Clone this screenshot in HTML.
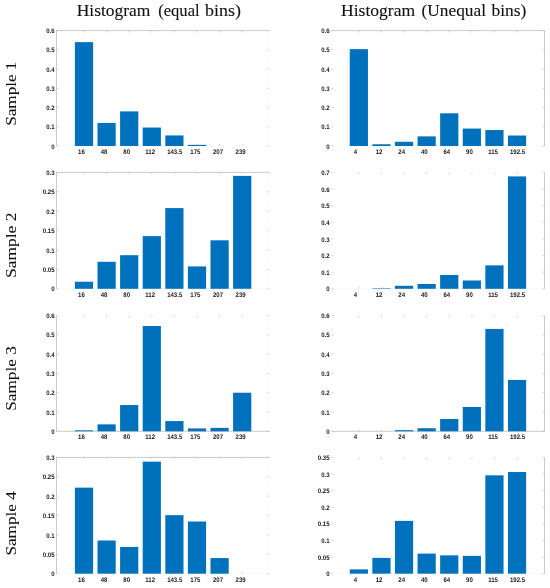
<!DOCTYPE html>
<html><head><meta charset="utf-8"><title>Histograms</title>
<style>
html,body{margin:0;padding:0;background:#fff;}
svg{display:block;}
.t{font-family:"Liberation Sans",sans-serif;font-size:6.05px;font-weight:bold;fill:#1a1a1a;text-rendering:geometricPrecision;}
.h{font-family:"Liberation Serif",serif;font-size:16.6px;fill:#111;stroke:#111;stroke-width:0.1px;}
.s{font-size:15.6px;stroke-width:0.05px;}
</style></head><body>
<svg width="550" height="588" viewBox="0 0 550 588">
<rect width="550" height="588" fill="#fff"/>
<g><line x1="56.5" y1="30.6" x2="56.5" y2="146.0" stroke="#b4b4b4" stroke-width="0.7"/><line x1="269.5" y1="30.6" x2="269.5" y2="146.0" stroke="#f6f6f6" stroke-width="0.5"/><line x1="56.5" y1="30.6" x2="269.5" y2="30.6" stroke="#b4b4b4" stroke-width="0.7"/><line x1="56.5" y1="146.0" x2="269.5" y2="146.0" stroke="#f6f6f6" stroke-width="0.5"/><line x1="56.5" y1="146.00" x2="58.7" y2="146.00" stroke="#b0b0b0" stroke-width="0.5"/><line x1="269.5" y1="146.00" x2="267.3" y2="146.00" stroke="#b0b0b0" stroke-width="0.5"/><text transform="translate(54.6,148.60) scale(1,1.08)" text-anchor="end" class="t">0</text><line x1="56.5" y1="126.77" x2="58.7" y2="126.77" stroke="#b0b0b0" stroke-width="0.5"/><line x1="269.5" y1="126.77" x2="267.3" y2="126.77" stroke="#b0b0b0" stroke-width="0.5"/><text transform="translate(54.6,129.37) scale(1,1.08)" text-anchor="end" class="t">0.1</text><line x1="56.5" y1="107.53" x2="58.7" y2="107.53" stroke="#b0b0b0" stroke-width="0.5"/><line x1="269.5" y1="107.53" x2="267.3" y2="107.53" stroke="#b0b0b0" stroke-width="0.5"/><text transform="translate(54.6,110.13) scale(1,1.08)" text-anchor="end" class="t">0.2</text><line x1="56.5" y1="88.30" x2="58.7" y2="88.30" stroke="#b0b0b0" stroke-width="0.5"/><line x1="269.5" y1="88.30" x2="267.3" y2="88.30" stroke="#b0b0b0" stroke-width="0.5"/><text transform="translate(54.6,90.90) scale(1,1.08)" text-anchor="end" class="t">0.3</text><line x1="56.5" y1="69.07" x2="58.7" y2="69.07" stroke="#b0b0b0" stroke-width="0.5"/><line x1="269.5" y1="69.07" x2="267.3" y2="69.07" stroke="#b0b0b0" stroke-width="0.5"/><text transform="translate(54.6,71.67) scale(1,1.08)" text-anchor="end" class="t">0.4</text><line x1="56.5" y1="49.83" x2="58.7" y2="49.83" stroke="#b0b0b0" stroke-width="0.5"/><line x1="269.5" y1="49.83" x2="267.3" y2="49.83" stroke="#b0b0b0" stroke-width="0.5"/><text transform="translate(54.6,52.43) scale(1,1.08)" text-anchor="end" class="t">0.5</text><line x1="56.5" y1="30.60" x2="58.7" y2="30.60" stroke="#b0b0b0" stroke-width="0.5"/><line x1="269.5" y1="30.60" x2="267.3" y2="30.60" stroke="#b0b0b0" stroke-width="0.5"/><text transform="translate(54.6,33.20) scale(1,1.08)" text-anchor="end" class="t">0.6</text><line x1="84.00" y1="30.6" x2="84.00" y2="32.800000000000004" stroke="#b0b0b0" stroke-width="0.5"/><line x1="84.00" y1="146.0" x2="84.00" y2="143.8" stroke="#b0b0b0" stroke-width="0.5"/><rect x="74.90" y="42.14" width="18.2" height="103.86" fill="#0072BD"/><text transform="translate(81.45,154.15) scale(1,1.1)" text-anchor="middle" class="t">16</text><line x1="106.60" y1="30.6" x2="106.60" y2="32.800000000000004" stroke="#b0b0b0" stroke-width="0.5"/><line x1="106.60" y1="146.0" x2="106.60" y2="143.8" stroke="#b0b0b0" stroke-width="0.5"/><rect x="97.50" y="122.92" width="18.2" height="23.08" fill="#0072BD"/><text transform="translate(104.05,154.15) scale(1,1.1)" text-anchor="middle" class="t">48</text><line x1="129.20" y1="30.6" x2="129.20" y2="32.800000000000004" stroke="#b0b0b0" stroke-width="0.5"/><line x1="129.20" y1="146.0" x2="129.20" y2="143.8" stroke="#b0b0b0" stroke-width="0.5"/><rect x="120.10" y="111.38" width="18.2" height="34.62" fill="#0072BD"/><text transform="translate(126.65,154.15) scale(1,1.1)" text-anchor="middle" class="t">80</text><line x1="151.80" y1="30.6" x2="151.80" y2="32.800000000000004" stroke="#b0b0b0" stroke-width="0.5"/><line x1="151.80" y1="146.0" x2="151.80" y2="143.8" stroke="#b0b0b0" stroke-width="0.5"/><rect x="142.70" y="127.54" width="18.2" height="18.46" fill="#0072BD"/><text transform="translate(150.20,154.15) scale(1,1.1)" text-anchor="middle" class="t">112</text><line x1="174.40" y1="30.6" x2="174.40" y2="32.800000000000004" stroke="#b0b0b0" stroke-width="0.5"/><line x1="174.40" y1="146.0" x2="174.40" y2="143.8" stroke="#b0b0b0" stroke-width="0.5"/><rect x="165.30" y="135.42" width="18.2" height="10.58" fill="#0072BD"/><text transform="translate(174.70,154.15) scale(1,1.1)" text-anchor="middle" class="t">143.5</text><line x1="197.00" y1="30.6" x2="197.00" y2="32.800000000000004" stroke="#b0b0b0" stroke-width="0.5"/><line x1="197.00" y1="146.0" x2="197.00" y2="143.8" stroke="#b0b0b0" stroke-width="0.5"/><rect x="187.90" y="144.85" width="18.2" height="1.15" fill="#0072BD"/><text transform="translate(195.40,154.15) scale(1,1.1)" text-anchor="middle" class="t">175</text><line x1="219.60" y1="30.6" x2="219.60" y2="32.800000000000004" stroke="#b0b0b0" stroke-width="0.5"/><line x1="219.60" y1="146.0" x2="219.60" y2="143.8" stroke="#b0b0b0" stroke-width="0.5"/><text transform="translate(218.00,154.15) scale(1,1.1)" text-anchor="middle" class="t">207</text><line x1="242.20" y1="30.6" x2="242.20" y2="32.800000000000004" stroke="#b0b0b0" stroke-width="0.5"/><line x1="242.20" y1="146.0" x2="242.20" y2="143.8" stroke="#b0b0b0" stroke-width="0.5"/><text transform="translate(240.60,154.15) scale(1,1.1)" text-anchor="middle" class="t">239</text></g>
<g><line x1="331.5" y1="30.6" x2="331.5" y2="146.0" stroke="#f6f6f6" stroke-width="0.5"/><line x1="544.5" y1="30.6" x2="544.5" y2="146.0" stroke="#b4b4b4" stroke-width="0.7"/><line x1="331.5" y1="30.6" x2="544.5" y2="30.6" stroke="#b4b4b4" stroke-width="0.7"/><line x1="331.5" y1="146.0" x2="544.5" y2="146.0" stroke="#f6f6f6" stroke-width="0.5"/><line x1="331.5" y1="146.00" x2="333.7" y2="146.00" stroke="#b0b0b0" stroke-width="0.5"/><line x1="544.5" y1="146.00" x2="542.3" y2="146.00" stroke="#b0b0b0" stroke-width="0.5"/><text transform="translate(329.6,148.60) scale(1,1.08)" text-anchor="end" class="t">0</text><line x1="331.5" y1="126.77" x2="333.7" y2="126.77" stroke="#b0b0b0" stroke-width="0.5"/><line x1="544.5" y1="126.77" x2="542.3" y2="126.77" stroke="#b0b0b0" stroke-width="0.5"/><text transform="translate(329.6,129.37) scale(1,1.08)" text-anchor="end" class="t">0.1</text><line x1="331.5" y1="107.53" x2="333.7" y2="107.53" stroke="#b0b0b0" stroke-width="0.5"/><line x1="544.5" y1="107.53" x2="542.3" y2="107.53" stroke="#b0b0b0" stroke-width="0.5"/><text transform="translate(329.6,110.13) scale(1,1.08)" text-anchor="end" class="t">0.2</text><line x1="331.5" y1="88.30" x2="333.7" y2="88.30" stroke="#b0b0b0" stroke-width="0.5"/><line x1="544.5" y1="88.30" x2="542.3" y2="88.30" stroke="#b0b0b0" stroke-width="0.5"/><text transform="translate(329.6,90.90) scale(1,1.08)" text-anchor="end" class="t">0.3</text><line x1="331.5" y1="69.07" x2="333.7" y2="69.07" stroke="#b0b0b0" stroke-width="0.5"/><line x1="544.5" y1="69.07" x2="542.3" y2="69.07" stroke="#b0b0b0" stroke-width="0.5"/><text transform="translate(329.6,71.67) scale(1,1.08)" text-anchor="end" class="t">0.4</text><line x1="331.5" y1="49.83" x2="333.7" y2="49.83" stroke="#b0b0b0" stroke-width="0.5"/><line x1="544.5" y1="49.83" x2="542.3" y2="49.83" stroke="#b0b0b0" stroke-width="0.5"/><text transform="translate(329.6,52.43) scale(1,1.08)" text-anchor="end" class="t">0.5</text><line x1="331.5" y1="30.60" x2="333.7" y2="30.60" stroke="#b0b0b0" stroke-width="0.5"/><line x1="544.5" y1="30.60" x2="542.3" y2="30.60" stroke="#b0b0b0" stroke-width="0.5"/><text transform="translate(329.6,33.20) scale(1,1.08)" text-anchor="end" class="t">0.6</text><line x1="358.85" y1="30.6" x2="358.85" y2="32.800000000000004" stroke="#b0b0b0" stroke-width="0.5"/><line x1="358.85" y1="146.0" x2="358.85" y2="143.8" stroke="#b0b0b0" stroke-width="0.5"/><rect x="349.75" y="49.14" width="18.2" height="96.86" fill="#0072BD"/><text transform="translate(355.50,154.15) scale(1,1.1)" text-anchor="middle" class="t">4</text><line x1="381.45" y1="30.6" x2="381.45" y2="32.800000000000004" stroke="#b0b0b0" stroke-width="0.5"/><line x1="381.45" y1="146.0" x2="381.45" y2="143.8" stroke="#b0b0b0" stroke-width="0.5"/><rect x="372.35" y="144.27" width="18.2" height="1.73" fill="#0072BD"/><text transform="translate(379.05,154.15) scale(1,1.1)" text-anchor="middle" class="t">12</text><line x1="404.05" y1="30.6" x2="404.05" y2="32.800000000000004" stroke="#b0b0b0" stroke-width="0.5"/><line x1="404.05" y1="146.0" x2="404.05" y2="143.8" stroke="#b0b0b0" stroke-width="0.5"/><rect x="394.95" y="141.77" width="18.2" height="4.23" fill="#0072BD"/><text transform="translate(401.65,154.15) scale(1,1.1)" text-anchor="middle" class="t">24</text><line x1="426.65" y1="30.6" x2="426.65" y2="32.800000000000004" stroke="#b0b0b0" stroke-width="0.5"/><line x1="426.65" y1="146.0" x2="426.65" y2="143.8" stroke="#b0b0b0" stroke-width="0.5"/><rect x="417.55" y="136.38" width="18.2" height="9.62" fill="#0072BD"/><text transform="translate(424.25,154.15) scale(1,1.1)" text-anchor="middle" class="t">40</text><line x1="449.25" y1="30.6" x2="449.25" y2="32.800000000000004" stroke="#b0b0b0" stroke-width="0.5"/><line x1="449.25" y1="146.0" x2="449.25" y2="143.8" stroke="#b0b0b0" stroke-width="0.5"/><rect x="440.15" y="113.30" width="18.2" height="32.70" fill="#0072BD"/><text transform="translate(446.85,154.15) scale(1,1.1)" text-anchor="middle" class="t">64</text><line x1="471.85" y1="30.6" x2="471.85" y2="32.800000000000004" stroke="#b0b0b0" stroke-width="0.5"/><line x1="471.85" y1="146.0" x2="471.85" y2="143.8" stroke="#b0b0b0" stroke-width="0.5"/><rect x="462.75" y="128.59" width="18.2" height="17.41" fill="#0072BD"/><text transform="translate(469.45,154.15) scale(1,1.1)" text-anchor="middle" class="t">90</text><line x1="494.45" y1="30.6" x2="494.45" y2="32.800000000000004" stroke="#b0b0b0" stroke-width="0.5"/><line x1="494.45" y1="146.0" x2="494.45" y2="143.8" stroke="#b0b0b0" stroke-width="0.5"/><rect x="485.35" y="130.04" width="18.2" height="15.96" fill="#0072BD"/><text transform="translate(493.00,154.15) scale(1,1.1)" text-anchor="middle" class="t">115</text><line x1="517.05" y1="30.6" x2="517.05" y2="32.800000000000004" stroke="#b0b0b0" stroke-width="0.5"/><line x1="517.05" y1="146.0" x2="517.05" y2="143.8" stroke="#b0b0b0" stroke-width="0.5"/><rect x="507.95" y="135.52" width="18.2" height="10.48" fill="#0072BD"/><text transform="translate(517.50,154.15) scale(1,1.1)" text-anchor="middle" class="t">192.5</text></g>
<g><line x1="56.5" y1="172.4" x2="56.5" y2="288.8" stroke="#b4b4b4" stroke-width="0.7"/><line x1="269.5" y1="172.4" x2="269.5" y2="288.8" stroke="#f6f6f6" stroke-width="0.5"/><line x1="56.5" y1="172.4" x2="269.5" y2="172.4" stroke="#b4b4b4" stroke-width="0.7"/><line x1="56.5" y1="288.8" x2="269.5" y2="288.8" stroke="#f6f6f6" stroke-width="0.5"/><line x1="56.5" y1="288.80" x2="58.7" y2="288.80" stroke="#b0b0b0" stroke-width="0.5"/><line x1="269.5" y1="288.80" x2="267.3" y2="288.80" stroke="#b0b0b0" stroke-width="0.5"/><text transform="translate(54.6,291.40) scale(1,1.08)" text-anchor="end" class="t">0</text><line x1="56.5" y1="269.40" x2="58.7" y2="269.40" stroke="#b0b0b0" stroke-width="0.5"/><line x1="269.5" y1="269.40" x2="267.3" y2="269.40" stroke="#b0b0b0" stroke-width="0.5"/><text transform="translate(54.6,272.00) scale(1,1.08)" text-anchor="end" class="t">0.05</text><line x1="56.5" y1="250.00" x2="58.7" y2="250.00" stroke="#b0b0b0" stroke-width="0.5"/><line x1="269.5" y1="250.00" x2="267.3" y2="250.00" stroke="#b0b0b0" stroke-width="0.5"/><text transform="translate(54.6,252.60) scale(1,1.08)" text-anchor="end" class="t">0.1</text><line x1="56.5" y1="230.60" x2="58.7" y2="230.60" stroke="#b0b0b0" stroke-width="0.5"/><line x1="269.5" y1="230.60" x2="267.3" y2="230.60" stroke="#b0b0b0" stroke-width="0.5"/><text transform="translate(54.6,233.20) scale(1,1.08)" text-anchor="end" class="t">0.15</text><line x1="56.5" y1="211.20" x2="58.7" y2="211.20" stroke="#b0b0b0" stroke-width="0.5"/><line x1="269.5" y1="211.20" x2="267.3" y2="211.20" stroke="#b0b0b0" stroke-width="0.5"/><text transform="translate(54.6,213.80) scale(1,1.08)" text-anchor="end" class="t">0.2</text><line x1="56.5" y1="191.80" x2="58.7" y2="191.80" stroke="#b0b0b0" stroke-width="0.5"/><line x1="269.5" y1="191.80" x2="267.3" y2="191.80" stroke="#b0b0b0" stroke-width="0.5"/><text transform="translate(54.6,194.40) scale(1,1.08)" text-anchor="end" class="t">0.25</text><line x1="56.5" y1="172.40" x2="58.7" y2="172.40" stroke="#b0b0b0" stroke-width="0.5"/><line x1="269.5" y1="172.40" x2="267.3" y2="172.40" stroke="#b0b0b0" stroke-width="0.5"/><text transform="translate(54.6,175.00) scale(1,1.08)" text-anchor="end" class="t">0.3</text><line x1="84.00" y1="172.4" x2="84.00" y2="174.6" stroke="#b0b0b0" stroke-width="0.5"/><line x1="84.00" y1="288.8" x2="84.00" y2="286.6" stroke="#b0b0b0" stroke-width="0.5"/><rect x="74.90" y="281.70" width="18.2" height="7.10" fill="#0072BD"/><text transform="translate(81.45,296.55) scale(1,1.1)" text-anchor="middle" class="t">16</text><line x1="106.60" y1="172.4" x2="106.60" y2="174.6" stroke="#b0b0b0" stroke-width="0.5"/><line x1="106.60" y1="288.8" x2="106.60" y2="286.6" stroke="#b0b0b0" stroke-width="0.5"/><rect x="97.50" y="261.80" width="18.2" height="27.00" fill="#0072BD"/><text transform="translate(104.05,296.55) scale(1,1.1)" text-anchor="middle" class="t">48</text><line x1="129.20" y1="172.4" x2="129.20" y2="174.6" stroke="#b0b0b0" stroke-width="0.5"/><line x1="129.20" y1="288.8" x2="129.20" y2="286.6" stroke="#b0b0b0" stroke-width="0.5"/><rect x="120.10" y="255.20" width="18.2" height="33.60" fill="#0072BD"/><text transform="translate(126.65,296.55) scale(1,1.1)" text-anchor="middle" class="t">80</text><line x1="151.80" y1="172.4" x2="151.80" y2="174.6" stroke="#b0b0b0" stroke-width="0.5"/><line x1="151.80" y1="288.8" x2="151.80" y2="286.6" stroke="#b0b0b0" stroke-width="0.5"/><rect x="142.70" y="236.11" width="18.2" height="52.69" fill="#0072BD"/><text transform="translate(150.20,296.55) scale(1,1.1)" text-anchor="middle" class="t">112</text><line x1="174.40" y1="172.4" x2="174.40" y2="174.6" stroke="#b0b0b0" stroke-width="0.5"/><line x1="174.40" y1="288.8" x2="174.40" y2="286.6" stroke="#b0b0b0" stroke-width="0.5"/><rect x="165.30" y="208.10" width="18.2" height="80.70" fill="#0072BD"/><text transform="translate(174.70,296.55) scale(1,1.1)" text-anchor="middle" class="t">143.5</text><line x1="197.00" y1="172.4" x2="197.00" y2="174.6" stroke="#b0b0b0" stroke-width="0.5"/><line x1="197.00" y1="288.8" x2="197.00" y2="286.6" stroke="#b0b0b0" stroke-width="0.5"/><rect x="187.90" y="266.41" width="18.2" height="22.39" fill="#0072BD"/><text transform="translate(195.40,296.55) scale(1,1.1)" text-anchor="middle" class="t">175</text><line x1="219.60" y1="172.4" x2="219.60" y2="174.6" stroke="#b0b0b0" stroke-width="0.5"/><line x1="219.60" y1="288.8" x2="219.60" y2="286.6" stroke="#b0b0b0" stroke-width="0.5"/><rect x="210.50" y="240.30" width="18.2" height="48.50" fill="#0072BD"/><text transform="translate(218.00,296.55) scale(1,1.1)" text-anchor="middle" class="t">207</text><line x1="242.20" y1="172.4" x2="242.20" y2="174.6" stroke="#b0b0b0" stroke-width="0.5"/><line x1="242.20" y1="288.8" x2="242.20" y2="286.6" stroke="#b0b0b0" stroke-width="0.5"/><rect x="233.10" y="175.89" width="18.2" height="112.91" fill="#0072BD"/><text transform="translate(240.60,296.55) scale(1,1.1)" text-anchor="middle" class="t">239</text></g>
<g><line x1="331.5" y1="172.4" x2="331.5" y2="288.8" stroke="#f6f6f6" stroke-width="0.5"/><line x1="544.5" y1="172.4" x2="544.5" y2="288.8" stroke="#b4b4b4" stroke-width="0.7"/><line x1="331.5" y1="172.4" x2="544.5" y2="172.4" stroke="#f6f6f6" stroke-width="0.5"/><line x1="331.5" y1="288.8" x2="544.5" y2="288.8" stroke="#f6f6f6" stroke-width="0.5"/><line x1="331.5" y1="288.80" x2="333.7" y2="288.80" stroke="#b0b0b0" stroke-width="0.5"/><line x1="544.5" y1="288.80" x2="542.3" y2="288.80" stroke="#b0b0b0" stroke-width="0.5"/><text transform="translate(329.6,291.40) scale(1,1.08)" text-anchor="end" class="t">0</text><line x1="331.5" y1="272.17" x2="333.7" y2="272.17" stroke="#b0b0b0" stroke-width="0.5"/><line x1="544.5" y1="272.17" x2="542.3" y2="272.17" stroke="#b0b0b0" stroke-width="0.5"/><text transform="translate(329.6,274.77) scale(1,1.08)" text-anchor="end" class="t">0.1</text><line x1="331.5" y1="255.54" x2="333.7" y2="255.54" stroke="#b0b0b0" stroke-width="0.5"/><line x1="544.5" y1="255.54" x2="542.3" y2="255.54" stroke="#b0b0b0" stroke-width="0.5"/><text transform="translate(329.6,258.14) scale(1,1.08)" text-anchor="end" class="t">0.2</text><line x1="331.5" y1="238.91" x2="333.7" y2="238.91" stroke="#b0b0b0" stroke-width="0.5"/><line x1="544.5" y1="238.91" x2="542.3" y2="238.91" stroke="#b0b0b0" stroke-width="0.5"/><text transform="translate(329.6,241.51) scale(1,1.08)" text-anchor="end" class="t">0.3</text><line x1="331.5" y1="222.29" x2="333.7" y2="222.29" stroke="#b0b0b0" stroke-width="0.5"/><line x1="544.5" y1="222.29" x2="542.3" y2="222.29" stroke="#b0b0b0" stroke-width="0.5"/><text transform="translate(329.6,224.89) scale(1,1.08)" text-anchor="end" class="t">0.4</text><line x1="331.5" y1="205.66" x2="333.7" y2="205.66" stroke="#b0b0b0" stroke-width="0.5"/><line x1="544.5" y1="205.66" x2="542.3" y2="205.66" stroke="#b0b0b0" stroke-width="0.5"/><text transform="translate(329.6,208.26) scale(1,1.08)" text-anchor="end" class="t">0.5</text><line x1="331.5" y1="189.03" x2="333.7" y2="189.03" stroke="#b0b0b0" stroke-width="0.5"/><line x1="544.5" y1="189.03" x2="542.3" y2="189.03" stroke="#b0b0b0" stroke-width="0.5"/><text transform="translate(329.6,191.63) scale(1,1.08)" text-anchor="end" class="t">0.6</text><line x1="331.5" y1="172.40" x2="333.7" y2="172.40" stroke="#b0b0b0" stroke-width="0.5"/><line x1="544.5" y1="172.40" x2="542.3" y2="172.40" stroke="#b0b0b0" stroke-width="0.5"/><text transform="translate(329.6,175.00) scale(1,1.08)" text-anchor="end" class="t">0.7</text><line x1="358.85" y1="172.4" x2="358.85" y2="174.6" stroke="#b0b0b0" stroke-width="0.5"/><line x1="358.85" y1="288.8" x2="358.85" y2="286.6" stroke="#b0b0b0" stroke-width="0.5"/><text transform="translate(355.50,296.55) scale(1,1.1)" text-anchor="middle" class="t">4</text><line x1="381.45" y1="172.4" x2="381.45" y2="174.6" stroke="#b0b0b0" stroke-width="0.5"/><line x1="381.45" y1="288.8" x2="381.45" y2="286.6" stroke="#b0b0b0" stroke-width="0.5"/><rect x="372.35" y="288.30" width="18.2" height="0.50" fill="#0072BD"/><text transform="translate(379.05,296.55) scale(1,1.1)" text-anchor="middle" class="t">12</text><line x1="404.05" y1="172.4" x2="404.05" y2="174.6" stroke="#b0b0b0" stroke-width="0.5"/><line x1="404.05" y1="288.8" x2="404.05" y2="286.6" stroke="#b0b0b0" stroke-width="0.5"/><rect x="394.95" y="285.81" width="18.2" height="2.99" fill="#0072BD"/><text transform="translate(401.65,296.55) scale(1,1.1)" text-anchor="middle" class="t">24</text><line x1="426.65" y1="172.4" x2="426.65" y2="174.6" stroke="#b0b0b0" stroke-width="0.5"/><line x1="426.65" y1="288.8" x2="426.65" y2="286.6" stroke="#b0b0b0" stroke-width="0.5"/><rect x="417.55" y="283.98" width="18.2" height="4.82" fill="#0072BD"/><text transform="translate(424.25,296.55) scale(1,1.1)" text-anchor="middle" class="t">40</text><line x1="449.25" y1="172.4" x2="449.25" y2="174.6" stroke="#b0b0b0" stroke-width="0.5"/><line x1="449.25" y1="288.8" x2="449.25" y2="286.6" stroke="#b0b0b0" stroke-width="0.5"/><rect x="440.15" y="275.00" width="18.2" height="13.80" fill="#0072BD"/><text transform="translate(446.85,296.55) scale(1,1.1)" text-anchor="middle" class="t">64</text><line x1="471.85" y1="172.4" x2="471.85" y2="174.6" stroke="#b0b0b0" stroke-width="0.5"/><line x1="471.85" y1="288.8" x2="471.85" y2="286.6" stroke="#b0b0b0" stroke-width="0.5"/><rect x="462.75" y="280.49" width="18.2" height="8.31" fill="#0072BD"/><text transform="translate(469.45,296.55) scale(1,1.1)" text-anchor="middle" class="t">90</text><line x1="494.45" y1="172.4" x2="494.45" y2="174.6" stroke="#b0b0b0" stroke-width="0.5"/><line x1="494.45" y1="288.8" x2="494.45" y2="286.6" stroke="#b0b0b0" stroke-width="0.5"/><rect x="485.35" y="265.35" width="18.2" height="23.45" fill="#0072BD"/><text transform="translate(493.00,296.55) scale(1,1.1)" text-anchor="middle" class="t">115</text><line x1="517.05" y1="172.4" x2="517.05" y2="174.6" stroke="#b0b0b0" stroke-width="0.5"/><line x1="517.05" y1="288.8" x2="517.05" y2="286.6" stroke="#b0b0b0" stroke-width="0.5"/><rect x="507.95" y="176.39" width="18.2" height="112.41" fill="#0072BD"/><text transform="translate(517.50,296.55) scale(1,1.1)" text-anchor="middle" class="t">192.5</text></g>
<g><line x1="56.5" y1="315.6" x2="56.5" y2="431.3" stroke="#b4b4b4" stroke-width="0.7"/><line x1="269.5" y1="315.6" x2="269.5" y2="431.3" stroke="#f6f6f6" stroke-width="0.5"/><line x1="56.5" y1="315.6" x2="269.5" y2="315.6" stroke="#f6f6f6" stroke-width="0.5"/><line x1="56.5" y1="431.3" x2="269.5" y2="431.3" stroke="#b4b4b4" stroke-width="0.7"/><line x1="56.5" y1="431.30" x2="58.7" y2="431.30" stroke="#b0b0b0" stroke-width="0.5"/><line x1="269.5" y1="431.30" x2="267.3" y2="431.30" stroke="#b0b0b0" stroke-width="0.5"/><text transform="translate(54.6,433.90) scale(1,1.08)" text-anchor="end" class="t">0</text><line x1="56.5" y1="412.02" x2="58.7" y2="412.02" stroke="#b0b0b0" stroke-width="0.5"/><line x1="269.5" y1="412.02" x2="267.3" y2="412.02" stroke="#b0b0b0" stroke-width="0.5"/><text transform="translate(54.6,414.62) scale(1,1.08)" text-anchor="end" class="t">0.1</text><line x1="56.5" y1="392.73" x2="58.7" y2="392.73" stroke="#b0b0b0" stroke-width="0.5"/><line x1="269.5" y1="392.73" x2="267.3" y2="392.73" stroke="#b0b0b0" stroke-width="0.5"/><text transform="translate(54.6,395.33) scale(1,1.08)" text-anchor="end" class="t">0.2</text><line x1="56.5" y1="373.45" x2="58.7" y2="373.45" stroke="#b0b0b0" stroke-width="0.5"/><line x1="269.5" y1="373.45" x2="267.3" y2="373.45" stroke="#b0b0b0" stroke-width="0.5"/><text transform="translate(54.6,376.05) scale(1,1.08)" text-anchor="end" class="t">0.3</text><line x1="56.5" y1="354.17" x2="58.7" y2="354.17" stroke="#b0b0b0" stroke-width="0.5"/><line x1="269.5" y1="354.17" x2="267.3" y2="354.17" stroke="#b0b0b0" stroke-width="0.5"/><text transform="translate(54.6,356.77) scale(1,1.08)" text-anchor="end" class="t">0.4</text><line x1="56.5" y1="334.88" x2="58.7" y2="334.88" stroke="#b0b0b0" stroke-width="0.5"/><line x1="269.5" y1="334.88" x2="267.3" y2="334.88" stroke="#b0b0b0" stroke-width="0.5"/><text transform="translate(54.6,337.48) scale(1,1.08)" text-anchor="end" class="t">0.5</text><line x1="56.5" y1="315.60" x2="58.7" y2="315.60" stroke="#b0b0b0" stroke-width="0.5"/><line x1="269.5" y1="315.60" x2="267.3" y2="315.60" stroke="#b0b0b0" stroke-width="0.5"/><text transform="translate(54.6,318.20) scale(1,1.08)" text-anchor="end" class="t">0.6</text><line x1="84.00" y1="315.6" x2="84.00" y2="317.8" stroke="#b0b0b0" stroke-width="0.5"/><line x1="84.00" y1="431.3" x2="84.00" y2="429.1" stroke="#b0b0b0" stroke-width="0.5"/><rect x="74.90" y="430.34" width="18.2" height="0.96" fill="#0072BD"/><text transform="translate(81.45,438.85) scale(1,1.1)" text-anchor="middle" class="t">16</text><line x1="106.60" y1="315.6" x2="106.60" y2="317.8" stroke="#b0b0b0" stroke-width="0.5"/><line x1="106.60" y1="431.3" x2="106.60" y2="429.1" stroke="#b0b0b0" stroke-width="0.5"/><rect x="97.50" y="424.36" width="18.2" height="6.94" fill="#0072BD"/><text transform="translate(104.05,438.85) scale(1,1.1)" text-anchor="middle" class="t">48</text><line x1="129.20" y1="315.6" x2="129.20" y2="317.8" stroke="#b0b0b0" stroke-width="0.5"/><line x1="129.20" y1="431.3" x2="129.20" y2="429.1" stroke="#b0b0b0" stroke-width="0.5"/><rect x="120.10" y="405.07" width="18.2" height="26.23" fill="#0072BD"/><text transform="translate(126.65,438.85) scale(1,1.1)" text-anchor="middle" class="t">80</text><line x1="151.80" y1="315.6" x2="151.80" y2="317.8" stroke="#b0b0b0" stroke-width="0.5"/><line x1="151.80" y1="431.3" x2="151.80" y2="429.1" stroke="#b0b0b0" stroke-width="0.5"/><rect x="142.70" y="326.01" width="18.2" height="105.29" fill="#0072BD"/><text transform="translate(150.20,438.85) scale(1,1.1)" text-anchor="middle" class="t">112</text><line x1="174.40" y1="315.6" x2="174.40" y2="317.8" stroke="#b0b0b0" stroke-width="0.5"/><line x1="174.40" y1="431.3" x2="174.40" y2="429.1" stroke="#b0b0b0" stroke-width="0.5"/><rect x="165.30" y="421.08" width="18.2" height="10.22" fill="#0072BD"/><text transform="translate(174.70,438.85) scale(1,1.1)" text-anchor="middle" class="t">143.5</text><line x1="197.00" y1="315.6" x2="197.00" y2="317.8" stroke="#b0b0b0" stroke-width="0.5"/><line x1="197.00" y1="431.3" x2="197.00" y2="429.1" stroke="#b0b0b0" stroke-width="0.5"/><rect x="187.90" y="428.41" width="18.2" height="2.89" fill="#0072BD"/><text transform="translate(195.40,438.85) scale(1,1.1)" text-anchor="middle" class="t">175</text><line x1="219.60" y1="315.6" x2="219.60" y2="317.8" stroke="#b0b0b0" stroke-width="0.5"/><line x1="219.60" y1="431.3" x2="219.60" y2="429.1" stroke="#b0b0b0" stroke-width="0.5"/><rect x="210.50" y="427.89" width="18.2" height="3.41" fill="#0072BD"/><text transform="translate(218.00,438.85) scale(1,1.1)" text-anchor="middle" class="t">207</text><line x1="242.20" y1="315.6" x2="242.20" y2="317.8" stroke="#b0b0b0" stroke-width="0.5"/><line x1="242.20" y1="431.3" x2="242.20" y2="429.1" stroke="#b0b0b0" stroke-width="0.5"/><rect x="233.10" y="392.73" width="18.2" height="38.57" fill="#0072BD"/><text transform="translate(240.60,438.85) scale(1,1.1)" text-anchor="middle" class="t">239</text></g>
<g><line x1="331.5" y1="315.6" x2="331.5" y2="431.3" stroke="#f6f6f6" stroke-width="0.5"/><line x1="544.5" y1="315.6" x2="544.5" y2="431.3" stroke="#b4b4b4" stroke-width="0.7"/><line x1="331.5" y1="315.6" x2="544.5" y2="315.6" stroke="#f6f6f6" stroke-width="0.5"/><line x1="331.5" y1="431.3" x2="544.5" y2="431.3" stroke="#b4b4b4" stroke-width="0.7"/><line x1="331.5" y1="431.30" x2="333.7" y2="431.30" stroke="#b0b0b0" stroke-width="0.5"/><line x1="544.5" y1="431.30" x2="542.3" y2="431.30" stroke="#b0b0b0" stroke-width="0.5"/><text transform="translate(329.6,433.90) scale(1,1.08)" text-anchor="end" class="t">0</text><line x1="331.5" y1="412.02" x2="333.7" y2="412.02" stroke="#b0b0b0" stroke-width="0.5"/><line x1="544.5" y1="412.02" x2="542.3" y2="412.02" stroke="#b0b0b0" stroke-width="0.5"/><text transform="translate(329.6,414.62) scale(1,1.08)" text-anchor="end" class="t">0.1</text><line x1="331.5" y1="392.73" x2="333.7" y2="392.73" stroke="#b0b0b0" stroke-width="0.5"/><line x1="544.5" y1="392.73" x2="542.3" y2="392.73" stroke="#b0b0b0" stroke-width="0.5"/><text transform="translate(329.6,395.33) scale(1,1.08)" text-anchor="end" class="t">0.2</text><line x1="331.5" y1="373.45" x2="333.7" y2="373.45" stroke="#b0b0b0" stroke-width="0.5"/><line x1="544.5" y1="373.45" x2="542.3" y2="373.45" stroke="#b0b0b0" stroke-width="0.5"/><text transform="translate(329.6,376.05) scale(1,1.08)" text-anchor="end" class="t">0.3</text><line x1="331.5" y1="354.17" x2="333.7" y2="354.17" stroke="#b0b0b0" stroke-width="0.5"/><line x1="544.5" y1="354.17" x2="542.3" y2="354.17" stroke="#b0b0b0" stroke-width="0.5"/><text transform="translate(329.6,356.77) scale(1,1.08)" text-anchor="end" class="t">0.4</text><line x1="331.5" y1="334.88" x2="333.7" y2="334.88" stroke="#b0b0b0" stroke-width="0.5"/><line x1="544.5" y1="334.88" x2="542.3" y2="334.88" stroke="#b0b0b0" stroke-width="0.5"/><text transform="translate(329.6,337.48) scale(1,1.08)" text-anchor="end" class="t">0.5</text><line x1="331.5" y1="315.60" x2="333.7" y2="315.60" stroke="#b0b0b0" stroke-width="0.5"/><line x1="544.5" y1="315.60" x2="542.3" y2="315.60" stroke="#b0b0b0" stroke-width="0.5"/><text transform="translate(329.6,318.20) scale(1,1.08)" text-anchor="end" class="t">0.6</text><line x1="358.85" y1="315.6" x2="358.85" y2="317.8" stroke="#b0b0b0" stroke-width="0.5"/><line x1="358.85" y1="431.3" x2="358.85" y2="429.1" stroke="#b0b0b0" stroke-width="0.5"/><text transform="translate(355.50,438.85) scale(1,1.1)" text-anchor="middle" class="t">4</text><line x1="381.45" y1="315.6" x2="381.45" y2="317.8" stroke="#b0b0b0" stroke-width="0.5"/><line x1="381.45" y1="431.3" x2="381.45" y2="429.1" stroke="#b0b0b0" stroke-width="0.5"/><text transform="translate(379.05,438.85) scale(1,1.1)" text-anchor="middle" class="t">12</text><line x1="404.05" y1="315.6" x2="404.05" y2="317.8" stroke="#b0b0b0" stroke-width="0.5"/><line x1="404.05" y1="431.3" x2="404.05" y2="429.1" stroke="#b0b0b0" stroke-width="0.5"/><rect x="394.95" y="430.14" width="18.2" height="1.16" fill="#0072BD"/><text transform="translate(401.65,438.85) scale(1,1.1)" text-anchor="middle" class="t">24</text><line x1="426.65" y1="315.6" x2="426.65" y2="317.8" stroke="#b0b0b0" stroke-width="0.5"/><line x1="426.65" y1="431.3" x2="426.65" y2="429.1" stroke="#b0b0b0" stroke-width="0.5"/><rect x="417.55" y="428.21" width="18.2" height="3.09" fill="#0072BD"/><text transform="translate(424.25,438.85) scale(1,1.1)" text-anchor="middle" class="t">40</text><line x1="449.25" y1="315.6" x2="449.25" y2="317.8" stroke="#b0b0b0" stroke-width="0.5"/><line x1="449.25" y1="431.3" x2="449.25" y2="429.1" stroke="#b0b0b0" stroke-width="0.5"/><rect x="440.15" y="418.96" width="18.2" height="12.34" fill="#0072BD"/><text transform="translate(446.85,438.85) scale(1,1.1)" text-anchor="middle" class="t">64</text><line x1="471.85" y1="315.6" x2="471.85" y2="317.8" stroke="#b0b0b0" stroke-width="0.5"/><line x1="471.85" y1="431.3" x2="471.85" y2="429.1" stroke="#b0b0b0" stroke-width="0.5"/><rect x="462.75" y="407.00" width="18.2" height="24.30" fill="#0072BD"/><text transform="translate(469.45,438.85) scale(1,1.1)" text-anchor="middle" class="t">90</text><line x1="494.45" y1="315.6" x2="494.45" y2="317.8" stroke="#b0b0b0" stroke-width="0.5"/><line x1="494.45" y1="431.3" x2="494.45" y2="429.1" stroke="#b0b0b0" stroke-width="0.5"/><rect x="485.35" y="328.91" width="18.2" height="102.39" fill="#0072BD"/><text transform="translate(493.00,438.85) scale(1,1.1)" text-anchor="middle" class="t">115</text><line x1="517.05" y1="315.6" x2="517.05" y2="317.8" stroke="#b0b0b0" stroke-width="0.5"/><line x1="517.05" y1="431.3" x2="517.05" y2="429.1" stroke="#b0b0b0" stroke-width="0.5"/><rect x="507.95" y="379.91" width="18.2" height="51.39" fill="#0072BD"/><text transform="translate(517.50,438.85) scale(1,1.1)" text-anchor="middle" class="t">192.5</text></g>
<g><line x1="56.5" y1="457.4" x2="56.5" y2="573.7" stroke="#b4b4b4" stroke-width="0.7"/><line x1="269.5" y1="457.4" x2="269.5" y2="573.7" stroke="#f6f6f6" stroke-width="0.5"/><line x1="56.5" y1="457.4" x2="269.5" y2="457.4" stroke="#b4b4b4" stroke-width="0.7"/><line x1="56.5" y1="573.7" x2="269.5" y2="573.7" stroke="#f6f6f6" stroke-width="0.5"/><line x1="56.5" y1="573.70" x2="58.7" y2="573.70" stroke="#b0b0b0" stroke-width="0.5"/><line x1="269.5" y1="573.70" x2="267.3" y2="573.70" stroke="#b0b0b0" stroke-width="0.5"/><text transform="translate(54.6,576.30) scale(1,1.08)" text-anchor="end" class="t">0</text><line x1="56.5" y1="554.32" x2="58.7" y2="554.32" stroke="#b0b0b0" stroke-width="0.5"/><line x1="269.5" y1="554.32" x2="267.3" y2="554.32" stroke="#b0b0b0" stroke-width="0.5"/><text transform="translate(54.6,556.92) scale(1,1.08)" text-anchor="end" class="t">0.05</text><line x1="56.5" y1="534.93" x2="58.7" y2="534.93" stroke="#b0b0b0" stroke-width="0.5"/><line x1="269.5" y1="534.93" x2="267.3" y2="534.93" stroke="#b0b0b0" stroke-width="0.5"/><text transform="translate(54.6,537.53) scale(1,1.08)" text-anchor="end" class="t">0.1</text><line x1="56.5" y1="515.55" x2="58.7" y2="515.55" stroke="#b0b0b0" stroke-width="0.5"/><line x1="269.5" y1="515.55" x2="267.3" y2="515.55" stroke="#b0b0b0" stroke-width="0.5"/><text transform="translate(54.6,518.15) scale(1,1.08)" text-anchor="end" class="t">0.15</text><line x1="56.5" y1="496.17" x2="58.7" y2="496.17" stroke="#b0b0b0" stroke-width="0.5"/><line x1="269.5" y1="496.17" x2="267.3" y2="496.17" stroke="#b0b0b0" stroke-width="0.5"/><text transform="translate(54.6,498.77) scale(1,1.08)" text-anchor="end" class="t">0.2</text><line x1="56.5" y1="476.78" x2="58.7" y2="476.78" stroke="#b0b0b0" stroke-width="0.5"/><line x1="269.5" y1="476.78" x2="267.3" y2="476.78" stroke="#b0b0b0" stroke-width="0.5"/><text transform="translate(54.6,479.38) scale(1,1.08)" text-anchor="end" class="t">0.25</text><line x1="56.5" y1="457.40" x2="58.7" y2="457.40" stroke="#b0b0b0" stroke-width="0.5"/><line x1="269.5" y1="457.40" x2="267.3" y2="457.40" stroke="#b0b0b0" stroke-width="0.5"/><text transform="translate(54.6,460.00) scale(1,1.08)" text-anchor="end" class="t">0.3</text><line x1="84.00" y1="457.4" x2="84.00" y2="459.59999999999997" stroke="#b0b0b0" stroke-width="0.5"/><line x1="84.00" y1="573.7" x2="84.00" y2="571.5" stroke="#b0b0b0" stroke-width="0.5"/><rect x="74.90" y="487.64" width="18.2" height="86.06" fill="#0072BD"/><text transform="translate(81.45,581.65) scale(1,1.1)" text-anchor="middle" class="t">16</text><line x1="106.60" y1="457.4" x2="106.60" y2="459.59999999999997" stroke="#b0b0b0" stroke-width="0.5"/><line x1="106.60" y1="573.7" x2="106.60" y2="571.5" stroke="#b0b0b0" stroke-width="0.5"/><rect x="97.50" y="540.48" width="18.2" height="33.22" fill="#0072BD"/><text transform="translate(104.05,581.65) scale(1,1.1)" text-anchor="middle" class="t">48</text><line x1="129.20" y1="457.4" x2="129.20" y2="459.59999999999997" stroke="#b0b0b0" stroke-width="0.5"/><line x1="129.20" y1="573.7" x2="129.20" y2="571.5" stroke="#b0b0b0" stroke-width="0.5"/><rect x="120.10" y="546.95" width="18.2" height="26.75" fill="#0072BD"/><text transform="translate(126.65,581.65) scale(1,1.1)" text-anchor="middle" class="t">80</text><line x1="151.80" y1="457.4" x2="151.80" y2="459.59999999999997" stroke="#b0b0b0" stroke-width="0.5"/><line x1="151.80" y1="573.7" x2="151.80" y2="571.5" stroke="#b0b0b0" stroke-width="0.5"/><rect x="142.70" y="461.66" width="18.2" height="112.04" fill="#0072BD"/><text transform="translate(150.20,581.65) scale(1,1.1)" text-anchor="middle" class="t">112</text><line x1="174.40" y1="457.4" x2="174.40" y2="459.59999999999997" stroke="#b0b0b0" stroke-width="0.5"/><line x1="174.40" y1="573.7" x2="174.40" y2="571.5" stroke="#b0b0b0" stroke-width="0.5"/><rect x="165.30" y="515.16" width="18.2" height="58.54" fill="#0072BD"/><text transform="translate(174.70,581.65) scale(1,1.1)" text-anchor="middle" class="t">143.5</text><line x1="197.00" y1="457.4" x2="197.00" y2="459.59999999999997" stroke="#b0b0b0" stroke-width="0.5"/><line x1="197.00" y1="573.7" x2="197.00" y2="571.5" stroke="#b0b0b0" stroke-width="0.5"/><rect x="187.90" y="521.52" width="18.2" height="52.18" fill="#0072BD"/><text transform="translate(195.40,581.65) scale(1,1.1)" text-anchor="middle" class="t">175</text><line x1="219.60" y1="457.4" x2="219.60" y2="459.59999999999997" stroke="#b0b0b0" stroke-width="0.5"/><line x1="219.60" y1="573.7" x2="219.60" y2="571.5" stroke="#b0b0b0" stroke-width="0.5"/><rect x="210.50" y="558.08" width="18.2" height="15.62" fill="#0072BD"/><text transform="translate(218.00,581.65) scale(1,1.1)" text-anchor="middle" class="t">207</text><line x1="242.20" y1="457.4" x2="242.20" y2="459.59999999999997" stroke="#b0b0b0" stroke-width="0.5"/><line x1="242.20" y1="573.7" x2="242.20" y2="571.5" stroke="#b0b0b0" stroke-width="0.5"/><text transform="translate(240.60,581.65) scale(1,1.1)" text-anchor="middle" class="t">239</text></g>
<g><line x1="331.5" y1="457.4" x2="331.5" y2="573.7" stroke="#f6f6f6" stroke-width="0.5"/><line x1="544.5" y1="457.4" x2="544.5" y2="573.7" stroke="#b4b4b4" stroke-width="0.7"/><line x1="331.5" y1="457.4" x2="544.5" y2="457.4" stroke="#f6f6f6" stroke-width="0.5"/><line x1="331.5" y1="573.7" x2="544.5" y2="573.7" stroke="#f6f6f6" stroke-width="0.5"/><line x1="331.5" y1="573.70" x2="333.7" y2="573.70" stroke="#b0b0b0" stroke-width="0.5"/><line x1="544.5" y1="573.70" x2="542.3" y2="573.70" stroke="#b0b0b0" stroke-width="0.5"/><text transform="translate(329.6,576.30) scale(1,1.08)" text-anchor="end" class="t">0</text><line x1="331.5" y1="557.09" x2="333.7" y2="557.09" stroke="#b0b0b0" stroke-width="0.5"/><line x1="544.5" y1="557.09" x2="542.3" y2="557.09" stroke="#b0b0b0" stroke-width="0.5"/><text transform="translate(329.6,559.69) scale(1,1.08)" text-anchor="end" class="t">0.05</text><line x1="331.5" y1="540.47" x2="333.7" y2="540.47" stroke="#b0b0b0" stroke-width="0.5"/><line x1="544.5" y1="540.47" x2="542.3" y2="540.47" stroke="#b0b0b0" stroke-width="0.5"/><text transform="translate(329.6,543.07) scale(1,1.08)" text-anchor="end" class="t">0.1</text><line x1="331.5" y1="523.86" x2="333.7" y2="523.86" stroke="#b0b0b0" stroke-width="0.5"/><line x1="544.5" y1="523.86" x2="542.3" y2="523.86" stroke="#b0b0b0" stroke-width="0.5"/><text transform="translate(329.6,526.46) scale(1,1.08)" text-anchor="end" class="t">0.15</text><line x1="331.5" y1="507.24" x2="333.7" y2="507.24" stroke="#b0b0b0" stroke-width="0.5"/><line x1="544.5" y1="507.24" x2="542.3" y2="507.24" stroke="#b0b0b0" stroke-width="0.5"/><text transform="translate(329.6,509.84) scale(1,1.08)" text-anchor="end" class="t">0.2</text><line x1="331.5" y1="490.63" x2="333.7" y2="490.63" stroke="#b0b0b0" stroke-width="0.5"/><line x1="544.5" y1="490.63" x2="542.3" y2="490.63" stroke="#b0b0b0" stroke-width="0.5"/><text transform="translate(329.6,493.23) scale(1,1.08)" text-anchor="end" class="t">0.25</text><line x1="331.5" y1="474.01" x2="333.7" y2="474.01" stroke="#b0b0b0" stroke-width="0.5"/><line x1="544.5" y1="474.01" x2="542.3" y2="474.01" stroke="#b0b0b0" stroke-width="0.5"/><text transform="translate(329.6,476.61) scale(1,1.08)" text-anchor="end" class="t">0.3</text><line x1="331.5" y1="457.40" x2="333.7" y2="457.40" stroke="#b0b0b0" stroke-width="0.5"/><line x1="544.5" y1="457.40" x2="542.3" y2="457.40" stroke="#b0b0b0" stroke-width="0.5"/><text transform="translate(329.6,460.00) scale(1,1.08)" text-anchor="end" class="t">0.35</text><line x1="358.85" y1="457.4" x2="358.85" y2="459.59999999999997" stroke="#b0b0b0" stroke-width="0.5"/><line x1="358.85" y1="573.7" x2="358.85" y2="571.5" stroke="#b0b0b0" stroke-width="0.5"/><rect x="349.75" y="569.38" width="18.2" height="4.32" fill="#0072BD"/><text transform="translate(355.50,581.65) scale(1,1.1)" text-anchor="middle" class="t">4</text><line x1="381.45" y1="457.4" x2="381.45" y2="459.59999999999997" stroke="#b0b0b0" stroke-width="0.5"/><line x1="381.45" y1="573.7" x2="381.45" y2="571.5" stroke="#b0b0b0" stroke-width="0.5"/><rect x="372.35" y="557.88" width="18.2" height="15.82" fill="#0072BD"/><text transform="translate(379.05,581.65) scale(1,1.1)" text-anchor="middle" class="t">12</text><line x1="404.05" y1="457.4" x2="404.05" y2="459.59999999999997" stroke="#b0b0b0" stroke-width="0.5"/><line x1="404.05" y1="573.7" x2="404.05" y2="571.5" stroke="#b0b0b0" stroke-width="0.5"/><rect x="394.95" y="520.87" width="18.2" height="52.83" fill="#0072BD"/><text transform="translate(401.65,581.65) scale(1,1.1)" text-anchor="middle" class="t">24</text><line x1="426.65" y1="457.4" x2="426.65" y2="459.59999999999997" stroke="#b0b0b0" stroke-width="0.5"/><line x1="426.65" y1="573.7" x2="426.65" y2="571.5" stroke="#b0b0b0" stroke-width="0.5"/><rect x="417.55" y="553.60" width="18.2" height="20.10" fill="#0072BD"/><text transform="translate(424.25,581.65) scale(1,1.1)" text-anchor="middle" class="t">40</text><line x1="449.25" y1="457.4" x2="449.25" y2="459.59999999999997" stroke="#b0b0b0" stroke-width="0.5"/><line x1="449.25" y1="573.7" x2="449.25" y2="571.5" stroke="#b0b0b0" stroke-width="0.5"/><rect x="440.15" y="555.36" width="18.2" height="18.34" fill="#0072BD"/><text transform="translate(446.85,581.65) scale(1,1.1)" text-anchor="middle" class="t">64</text><line x1="471.85" y1="457.4" x2="471.85" y2="459.59999999999997" stroke="#b0b0b0" stroke-width="0.5"/><line x1="471.85" y1="573.7" x2="471.85" y2="571.5" stroke="#b0b0b0" stroke-width="0.5"/><rect x="462.75" y="555.86" width="18.2" height="17.84" fill="#0072BD"/><text transform="translate(469.45,581.65) scale(1,1.1)" text-anchor="middle" class="t">90</text><line x1="494.45" y1="457.4" x2="494.45" y2="459.59999999999997" stroke="#b0b0b0" stroke-width="0.5"/><line x1="494.45" y1="573.7" x2="494.45" y2="571.5" stroke="#b0b0b0" stroke-width="0.5"/><rect x="485.35" y="475.34" width="18.2" height="98.36" fill="#0072BD"/><text transform="translate(493.00,581.65) scale(1,1.1)" text-anchor="middle" class="t">115</text><line x1="517.05" y1="457.4" x2="517.05" y2="459.59999999999997" stroke="#b0b0b0" stroke-width="0.5"/><line x1="517.05" y1="573.7" x2="517.05" y2="571.5" stroke="#b0b0b0" stroke-width="0.5"/><rect x="507.95" y="472.02" width="18.2" height="101.68" fill="#0072BD"/><text transform="translate(517.50,581.65) scale(1,1.1)" text-anchor="middle" class="t">192.5</text></g>
<text transform="translate(76.70,15.7) scale(1.0520,1)" class="h">Histogram</text>
<text transform="translate(158.20,15.7) scale(0.9988,1)" class="h">(equal</text>
<text transform="translate(205.10,15.7) scale(1.0808,1)" class="h">bins)</text>
<text transform="translate(341.00,15.7) scale(1.0577,1)" class="h">Histogram</text>
<text transform="translate(421.50,15.7) scale(1.0446,1)" class="h">(Unequal</text>
<text transform="translate(491.40,15.7) scale(1.0533,1)" class="h">bins)</text>
<text transform="translate(15.6,125.79) rotate(-90) scale(1.0986,1)" class="h s">Sample 1</text>
<text transform="translate(15.6,278.01) rotate(-90) scale(1.1208,1)" class="h s">Sample 2</text>
<text transform="translate(15.6,410.69) rotate(-90) scale(1.1030,1)" class="h s">Sample 3</text>
<text transform="translate(15.6,555.59) rotate(-90) scale(1.1005,1)" class="h s">Sample 4</text>
</svg>
</body></html>
